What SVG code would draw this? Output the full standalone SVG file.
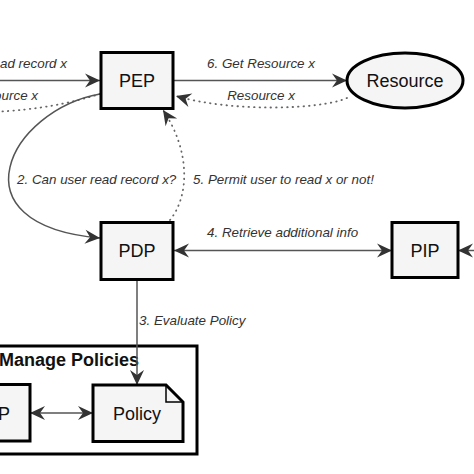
<svg xmlns="http://www.w3.org/2000/svg" width="474" height="474" viewBox="0 0 474 474">
<style>
.box{fill:#f5f5f5;stroke:#000;stroke-width:3}
.frame{fill:#fff;stroke:#000;stroke-width:3}
.nt{font-family:"Liberation Sans",Arial,sans-serif;font-size:18px;fill:#111}
.lb{font-family:"Liberation Sans",Arial,sans-serif;font-size:13.4px;font-style:italic;fill:#333}
.title{font-family:"Liberation Sans",Arial,sans-serif;font-size:18px;font-weight:bold;fill:#111}
.c{fill:none;stroke:#555;stroke-width:1.5}
.d{fill:none;stroke:#666;stroke-width:1.8;stroke-dasharray:0.5 5;stroke-linecap:round}
</style>
<defs>
<marker id="ah" markerUnits="userSpaceOnUse" viewBox="-16 -8 17 16" refX="0" refY="0" markerWidth="17" markerHeight="16" orient="auto-start-reverse">
<path d="M0,0 L-15,-7 L-10,0 L-15,7 Z" fill="#333"/>
</marker>
</defs>
<rect width="474" height="474" fill="#fff"/>

<g id="manage-policies">
<rect class="frame" x="-5" y="346" width="202" height="108"/>
<text class="title" x="-1" y="366">Manage Policies</text>
</g>

<g id="connectors">
<path class="c" d="M-5,80.5 L100,80.5" marker-end="url(#ah)"/>
<path class="d" d="M100,94 C70,103 40,110 -10,112"/>
<path class="c" d="M174,80.5 L347,80.5" marker-end="url(#ah)"/>
<path class="d" d="M347,98 C320,110 230,112 176,96" marker-end="url(#ah)"/>
<path class="c" d="M100,94 C10,110 -50,225 100,238" marker-end="url(#ah)"/>
<path class="d" d="M170,220 C190,195 190,150 163,110" marker-end="url(#ah)"/>
<path class="c" d="M174,250.5 L392,250.5" marker-start="url(#ah)" marker-end="url(#ah)"/>
<path class="c" d="M480,250.5 L458,250.5" marker-end="url(#ah)"/>
<path class="c" d="M137,280 L137,385" marker-end="url(#ah)"/>
<path class="c" d="M30,413 L93,413" marker-start="url(#ah)" marker-end="url(#ah)"/>
</g>

<g id="labels">
<text class="lb" x="67" y="68" text-anchor="end">ad record x</text>
<text class="lb" x="38" y="100" text-anchor="end">ource x</text>
<text class="lb" x="261" y="68" text-anchor="middle">6. Get Resource x</text>
<text class="lb" x="261" y="100" text-anchor="middle">Resource x</text>
<text class="lb" x="17" y="184">2. Can user read record x?</text>
<text class="lb" x="193" y="184">5. Permit user to read x or not!</text>
<text class="lb" x="207" y="237">4. Retrieve additional info</text>
<text class="lb" x="139" y="325">3. Evaluate Policy</text>
</g>

<g id="pep">
<rect class="box" x="101" y="52.5" width="72" height="56"/>
<text class="nt" x="137" y="87" text-anchor="middle">PEP</text>
</g>

<g id="resource">
<ellipse class="box" cx="405" cy="80.5" rx="58" ry="27.5"/>
<text class="nt" x="405" y="87" text-anchor="middle">Resource</text>
</g>

<g id="pdp">
<rect class="box" x="101" y="222.5" width="72" height="57"/>
<text class="nt" x="137" y="257" text-anchor="middle">PDP</text>
</g>

<g id="pip">
<rect class="box" x="392" y="222.5" width="66" height="55"/>
<text class="nt" x="425" y="257" text-anchor="middle">PIP</text>
</g>

<g id="pap">
<rect class="box" x="-20" y="384.5" width="50" height="56.5"/>
<text class="nt" x="-2" y="420">P</text>
</g>

<g id="policy">
<path class="box" d="M93,385 H166 L183,402 V441.5 H93 Z"/>
<path d="M166,385 V402 H183" fill="none" stroke="#000" stroke-width="1.5"/>
<text class="nt" x="137" y="420" text-anchor="middle">Policy</text>
</g>
</svg>
